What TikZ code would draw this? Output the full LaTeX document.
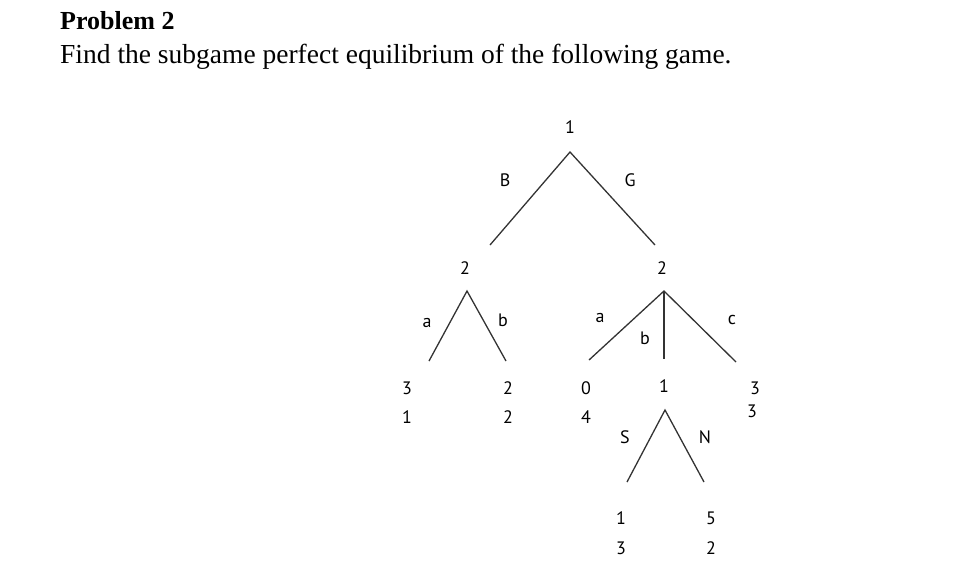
\documentclass[tikz,border=0pt]{standalone}
\usepackage{fontspec}
\setmainfont{Liberation Serif}
\newfontfamily\treefont{PT Sans}
\begin{document}
\begin{tikzpicture}[x=1pt,y=-1pt,
  lab/.style={font=\treefont\fontsize{18}{18}\selectfont,inner sep=0pt},
  edge/.style={line width=1.3pt,color=black!80}]
\useasboundingbox (0,0) rectangle (974,566);
\node[anchor=west,font=\bfseries\fontsize{26}{28}\selectfont,inner sep=0pt] (t1) at (60,21) {Problem 2};
\node[anchor=west,font=\fontsize{27.5}{30}\selectfont,inner sep=0pt] (t2) at (60,57) {Find the subgame perfect equilibrium of the following game.};
% vertices
\coordinate (r) at (570,152);
\coordinate (l) at (467,291);
\coordinate (m) at (664,291);
\coordinate (s) at (665,410);
\coordinate (bl) at (490,245);
\coordinate (gr) at (655,245);
\coordinate (la) at (429,361);
\coordinate (lb) at (506,361);
\coordinate (ma) at (589,360);
\coordinate (mb) at (664,359);
\coordinate (mc) at (736,362);
\coordinate (sS) at (627,482);
\coordinate (sN) at (704,482);
\draw[edge] (bl) -- (r) -- (gr);
\draw[edge] (la) -- (l) -- (lb);
\draw[edge] (ma) -- (m) -- (mc);
\draw[edge,line width=1.8pt] (m) -- (mb);
\draw[edge] (sS) -- (s) -- (sN);
% player labels
\node[lab] (p1) at (570,127) {1};
\node[lab] (p2l) at (465,268) {2};
\node[lab] (p2r) at (662,268) {2};
\node[lab] (p1s) at (664,386) {1};
% action labels
\node[lab] (aB) at (505,180) {B};
\node[lab] (aG) at (630,180) {G};
\node[lab] (la1) at (427,323) {a};
\node[lab] (lb1) at (503,320) {b};
\node[lab] (ma1) at (600,318) {a};
\node[lab] (mb1) at (645,338) {b};
\node[lab] (mc1) at (732,320) {c};
\node[lab] (sS1) at (625,437) {S};
\node[lab] (sN1) at (705,437) {N};
% payoffs
\node[lab] (u1) at (407,388) {3};
\node[lab] (u2) at (407,417) {1};
\node[lab] (v1) at (508,388) {2};
\node[lab] (v2) at (508,417) {2};
\node[lab] (w1) at (586,388) {0};
\node[lab] (w2) at (586,417) {4};
\node[lab] (x1) at (755,388) {3};
\node[lab] (x2) at (752,411) {3};
\node[lab] (y1) at (621,518) {1};
\node[lab] (y2) at (621,548) {3};
\node[lab] (z1) at (711,518) {5};
\node[lab] (z2) at (711,548) {2};
\end{tikzpicture}
\end{document}
